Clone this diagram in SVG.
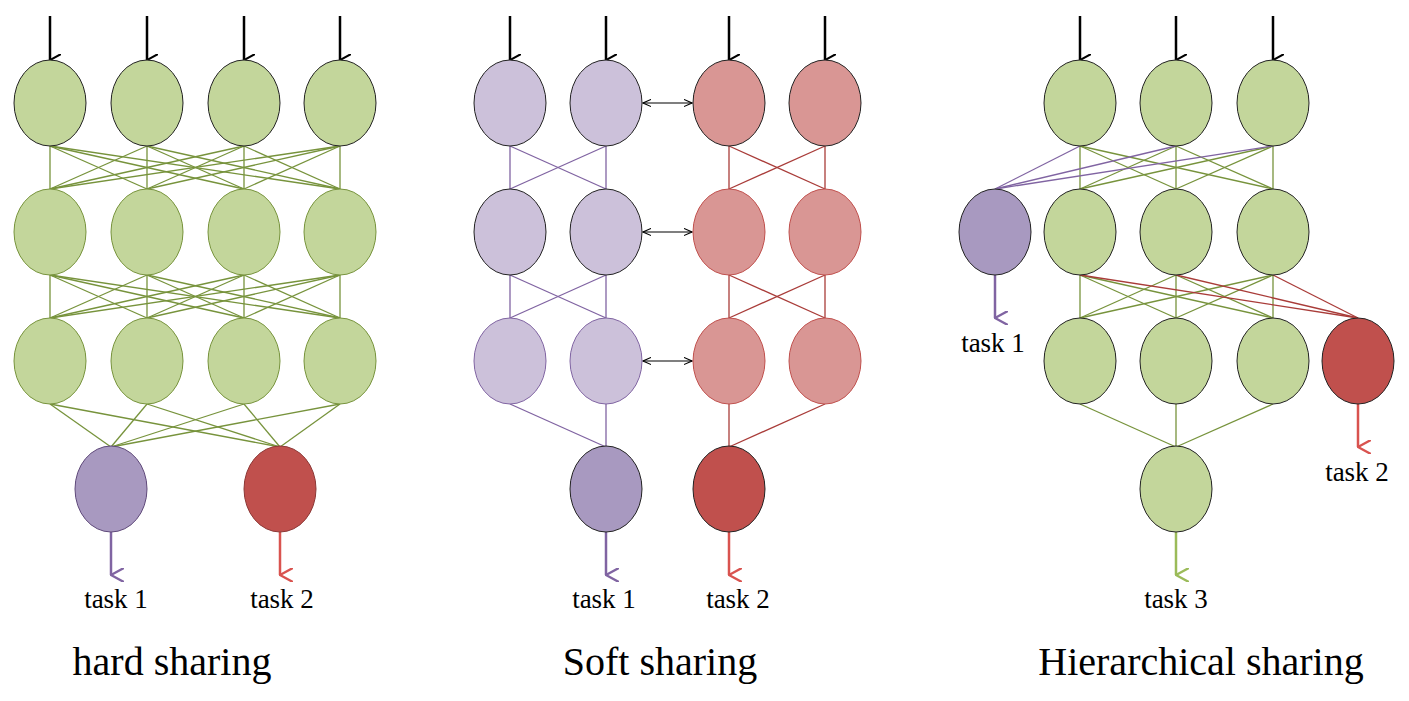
<svg xmlns="http://www.w3.org/2000/svg" width="1409" height="701" viewBox="0 0 1409 701">
<style>
.g{fill:#c3d69b}.gs{stroke:#77933c;stroke-width:1}.k{stroke:#222;stroke-width:1}
.p{fill:#a899c0}.lp{fill:#ccc1da}.r{fill:#c0504d}.lr{fill:#d99694}
.cg line{stroke:#77933c;stroke-width:1.3}.cp{stroke:#8064a2;stroke-width:1.3}.cr{stroke:#a93c39;stroke-width:1.3}
.in{stroke:#000;stroke-width:2.5;fill:none}
text{font-family:"Liberation Serif",serif;fill:#000}
.t{font-size:27px;text-anchor:middle}.h{font-size:40px;text-anchor:middle}
</style>
<defs>
<marker id="ak" viewBox="0 0 12 12" refX="6" refY="11" markerWidth="12" markerHeight="12" markerUnits="userSpaceOnUse" orient="auto-start-reverse"><path d="M0,0 L6,11 L12,0" fill="none" stroke="#000" stroke-width="2"/></marker>
<marker id="ap" viewBox="0 0 12 12" refX="6" refY="11" markerWidth="14" markerHeight="14" markerUnits="userSpaceOnUse" orient="auto"><path d="M0,0 L6,11 L12,0" fill="none" stroke="#8064a2" stroke-width="2"/></marker>
<marker id="ar" viewBox="0 0 12 12" refX="6" refY="11" markerWidth="14" markerHeight="14" markerUnits="userSpaceOnUse" orient="auto"><path d="M0,0 L6,11 L12,0" fill="none" stroke="#d9534f" stroke-width="2"/></marker>
<marker id="ag" viewBox="0 0 12 12" refX="6" refY="11" markerWidth="14" markerHeight="14" markerUnits="userSpaceOnUse" orient="auto"><path d="M0,0 L6,11 L12,0" fill="none" stroke="#9bbb59" stroke-width="2"/></marker>
<marker id="ad" viewBox="0 0 10 10" refX="9" refY="5" markerWidth="9" markerHeight="9" markerUnits="userSpaceOnUse" orient="auto-start-reverse"><path d="M0,1 L9,5 L0,9" fill="none" stroke="#000" stroke-width="1.2"/></marker>
</defs>
<g id="connectors">
<g class="cg">
<!-- hard row1->row2 -->
<line x1="50" y1="146" x2="50" y2="189"/><line x1="50" y1="146" x2="147" y2="189"/><line x1="50" y1="146" x2="244" y2="189"/><line x1="50" y1="146" x2="340" y2="189"/>
<line x1="147" y1="146" x2="50" y2="189"/><line x1="147" y1="146" x2="147" y2="189"/><line x1="147" y1="146" x2="244" y2="189"/><line x1="147" y1="146" x2="340" y2="189"/>
<line x1="244" y1="146" x2="50" y2="189"/><line x1="244" y1="146" x2="147" y2="189"/><line x1="244" y1="146" x2="244" y2="189"/><line x1="244" y1="146" x2="340" y2="189"/>
<line x1="340" y1="146" x2="50" y2="189"/><line x1="340" y1="146" x2="147" y2="189"/><line x1="340" y1="146" x2="244" y2="189"/><line x1="340" y1="146" x2="340" y2="189"/>
<line x1="50" y1="275" x2="50" y2="318"/><line x1="50" y1="275" x2="147" y2="318"/><line x1="50" y1="275" x2="244" y2="318"/><line x1="50" y1="275" x2="340" y2="318"/>
<line x1="147" y1="275" x2="50" y2="318"/><line x1="147" y1="275" x2="147" y2="318"/><line x1="147" y1="275" x2="244" y2="318"/><line x1="147" y1="275" x2="340" y2="318"/>
<line x1="244" y1="275" x2="50" y2="318"/><line x1="244" y1="275" x2="147" y2="318"/><line x1="244" y1="275" x2="244" y2="318"/><line x1="244" y1="275" x2="340" y2="318"/>
<line x1="340" y1="275" x2="50" y2="318"/><line x1="340" y1="275" x2="147" y2="318"/><line x1="340" y1="275" x2="244" y2="318"/><line x1="340" y1="275" x2="340" y2="318"/>
<line x1="50" y1="404" x2="111" y2="447"/><line x1="147" y1="404" x2="111" y2="447"/><line x1="244" y1="404" x2="111" y2="447"/><line x1="340" y1="404" x2="111" y2="447"/>
<line x1="50" y1="404" x2="280" y2="447"/><line x1="147" y1="404" x2="280" y2="447"/><line x1="244" y1="404" x2="280" y2="447"/><line x1="340" y1="404" x2="280" y2="447"/>
<!-- hierarchical -->
<line x1="1080" y1="146" x2="1080" y2="189"/><line x1="1080" y1="146" x2="1176" y2="189"/><line x1="1080" y1="146" x2="1273" y2="189"/>
<line x1="1176" y1="146" x2="1080" y2="189"/><line x1="1176" y1="146" x2="1176" y2="189"/><line x1="1176" y1="146" x2="1273" y2="189"/>
<line x1="1273" y1="146" x2="1080" y2="189"/><line x1="1273" y1="146" x2="1176" y2="189"/><line x1="1273" y1="146" x2="1273" y2="189"/>
<line x1="1080" y1="275" x2="1080" y2="318"/><line x1="1080" y1="275" x2="1176" y2="318"/><line x1="1080" y1="275" x2="1273" y2="318"/>
<line x1="1176" y1="275" x2="1080" y2="318"/><line x1="1176" y1="275" x2="1176" y2="318"/><line x1="1176" y1="275" x2="1273" y2="318"/>
<line x1="1273" y1="275" x2="1080" y2="318"/><line x1="1273" y1="275" x2="1176" y2="318"/><line x1="1273" y1="275" x2="1273" y2="318"/>
<line x1="1080" y1="404" x2="1176" y2="447"/><line x1="1176" y1="404" x2="1176" y2="447"/><line x1="1273" y1="404" x2="1176" y2="447"/>
</g>
<g class="cp">
<line x1="510" y1="146" x2="510" y2="189"/><line x1="510" y1="146" x2="606" y2="189"/><line x1="606" y1="146" x2="510" y2="189"/><line x1="606" y1="146" x2="606" y2="189"/>
<line x1="510" y1="275" x2="510" y2="318"/><line x1="510" y1="275" x2="606" y2="318"/><line x1="606" y1="275" x2="510" y2="318"/><line x1="606" y1="275" x2="606" y2="318"/>
<line x1="510" y1="404" x2="606" y2="447"/><line x1="606" y1="404" x2="606" y2="447"/>
<line x1="1080" y1="146" x2="995" y2="189"/><line x1="1176" y1="146" x2="995" y2="189"/><line x1="1273" y1="146" x2="995" y2="189"/>
</g>
<g class="cr">
<line x1="729" y1="146" x2="729" y2="189"/><line x1="729" y1="146" x2="825" y2="189"/><line x1="825" y1="146" x2="729" y2="189"/><line x1="825" y1="146" x2="825" y2="189"/>
<line x1="729" y1="275" x2="729" y2="318"/><line x1="729" y1="275" x2="825" y2="318"/><line x1="825" y1="275" x2="729" y2="318"/><line x1="825" y1="275" x2="825" y2="318"/>
<line x1="729" y1="404" x2="729" y2="447"/><line x1="825" y1="404" x2="729" y2="447"/>
<line x1="1080" y1="275" x2="1358" y2="318"/><line x1="1176" y1="275" x2="1358" y2="318"/><line x1="1273" y1="275" x2="1358" y2="318"/>
</g>
<!-- input arrows -->
<g class="in">
<line x1="50" y1="16" x2="50" y2="60" marker-end="url(#ak)"/><line x1="147" y1="16" x2="147" y2="60" marker-end="url(#ak)"/><line x1="244" y1="16" x2="244" y2="60" marker-end="url(#ak)"/><line x1="340" y1="16" x2="340" y2="60" marker-end="url(#ak)"/>
<line x1="510" y1="16" x2="510" y2="60" marker-end="url(#ak)"/><line x1="606" y1="16" x2="606" y2="60" marker-end="url(#ak)"/><line x1="729" y1="16" x2="729" y2="60" marker-end="url(#ak)"/><line x1="825" y1="16" x2="825" y2="60" marker-end="url(#ak)"/>
<line x1="1080" y1="16" x2="1080" y2="60" marker-end="url(#ak)"/><line x1="1176" y1="16" x2="1176" y2="60" marker-end="url(#ak)"/><line x1="1273" y1="16" x2="1273" y2="60" marker-end="url(#ak)"/>
</g>
<g stroke="#000" stroke-width="1.2">
<line x1="643" y1="103" x2="692" y2="103" marker-start="url(#ad)" marker-end="url(#ad)"/>
<line x1="643" y1="232" x2="692" y2="232" marker-start="url(#ad)" marker-end="url(#ad)"/>
<line x1="643" y1="361" x2="692" y2="361" marker-start="url(#ad)" marker-end="url(#ad)"/>
</g>
<line x1="111" y1="532" x2="111" y2="575" stroke="#8064a2" stroke-width="2.5" marker-end="url(#ap)"/>
<line x1="280" y1="532" x2="280" y2="575" stroke="#d9534f" stroke-width="2.5" marker-end="url(#ar)"/>
<line x1="606" y1="532" x2="606" y2="575" stroke="#8064a2" stroke-width="2.5" marker-end="url(#ap)"/>
<line x1="729" y1="532" x2="729" y2="575" stroke="#d9534f" stroke-width="2.5" marker-end="url(#ar)"/>
<line x1="995" y1="275" x2="995" y2="318" stroke="#8064a2" stroke-width="2.5" marker-end="url(#ap)"/>
<line x1="1358" y1="404" x2="1358" y2="447" stroke="#d9534f" stroke-width="2.5" marker-end="url(#ar)"/>
<line x1="1176" y1="532" x2="1176" y2="575" stroke="#9bbb59" stroke-width="2.5" marker-end="url(#ag)"/>
</g>
<g id="hard">
<g id="h11"><ellipse class="g k" cx="50" cy="103" rx="36" ry="43"/></g>
<g id="h12"><ellipse class="g k" cx="147" cy="103" rx="36" ry="43"/></g>
<g id="h13"><ellipse class="g k" cx="244" cy="103" rx="36" ry="43"/></g>
<g id="h14"><ellipse class="g k" cx="340" cy="103" rx="36" ry="43"/></g>
<g id="h21"><ellipse class="g gs" cx="50" cy="232" rx="36" ry="43"/></g>
<g id="h22"><ellipse class="g gs" cx="147" cy="232" rx="36" ry="43"/></g>
<g id="h23"><ellipse class="g gs" cx="244" cy="232" rx="36" ry="43"/></g>
<g id="h24"><ellipse class="g gs" cx="340" cy="232" rx="36" ry="43"/></g>
<g id="h31"><ellipse class="g gs" cx="50" cy="361" rx="36" ry="43"/></g>
<g id="h32"><ellipse class="g gs" cx="147" cy="361" rx="36" ry="43"/></g>
<g id="h33"><ellipse class="g gs" cx="244" cy="361" rx="36" ry="43"/></g>
<g id="h34"><ellipse class="g gs" cx="340" cy="361" rx="36" ry="43"/></g>
<g id="ho1"><ellipse class="p" stroke="#5f497a" cx="111" cy="489" rx="36" ry="43"/></g>
<g id="ho2"><ellipse class="r" stroke="#8c3836" cx="280" cy="489" rx="36" ry="43"/></g>
</g>
<g id="soft">
<g id="s11"><ellipse class="lp k" cx="510" cy="103" rx="36" ry="43"/></g>
<g id="s12"><ellipse class="lp k" cx="606" cy="103" rx="36" ry="43"/></g>
<g id="s13"><ellipse class="lr k" cx="729" cy="103" rx="36" ry="43"/></g>
<g id="s14"><ellipse class="lr k" cx="825" cy="103" rx="36" ry="43"/></g>
<g id="s21"><ellipse class="lp k" cx="510" cy="232" rx="36" ry="43"/></g>
<g id="s22"><ellipse class="lp k" cx="606" cy="232" rx="36" ry="43"/></g>
<g id="s23"><ellipse class="lr" stroke="#c0504d" cx="729" cy="232" rx="36" ry="43"/></g>
<g id="s24"><ellipse class="lr" stroke="#c0504d" cx="825" cy="232" rx="36" ry="43"/></g>
<g id="s31"><ellipse class="lp" stroke="#8064a2" cx="510" cy="361" rx="36" ry="43"/></g>
<g id="s32"><ellipse class="lp" stroke="#8064a2" cx="606" cy="361" rx="36" ry="43"/></g>
<g id="s33"><ellipse class="lr" stroke="#c0504d" cx="729" cy="361" rx="36" ry="43"/></g>
<g id="s34"><ellipse class="lr" stroke="#c0504d" cx="825" cy="361" rx="36" ry="43"/></g>
<g id="so1"><ellipse class="p k" cx="606" cy="489" rx="36" ry="43"/></g>
<g id="so2"><ellipse class="r k" cx="729" cy="489" rx="36" ry="43"/></g>
</g>
<g id="hier">
<g id="r11"><ellipse class="g k" cx="1080" cy="103" rx="36" ry="43"/></g>
<g id="r12"><ellipse class="g k" cx="1176" cy="103" rx="36" ry="43"/></g>
<g id="r13"><ellipse class="g k" cx="1273" cy="103" rx="36" ry="43"/></g>
<g id="rp"><ellipse class="p k" cx="995" cy="232" rx="36" ry="43"/></g>
<g id="r21"><ellipse class="g k" cx="1080" cy="232" rx="36" ry="43"/></g>
<g id="r22"><ellipse class="g k" cx="1176" cy="232" rx="36" ry="43"/></g>
<g id="r23"><ellipse class="g k" cx="1273" cy="232" rx="36" ry="43"/></g>
<g id="r31"><ellipse class="g k" cx="1080" cy="361" rx="36" ry="43"/></g>
<g id="r32"><ellipse class="g k" cx="1176" cy="361" rx="36" ry="43"/></g>
<g id="r33"><ellipse class="g k" cx="1273" cy="361" rx="36" ry="43"/></g>
<g id="rr"><ellipse class="r k" cx="1358" cy="361" rx="36" ry="43"/></g>
<g id="ro"><ellipse class="g k" cx="1176" cy="489" rx="36" ry="43"/></g>
</g>
<g id="labels">
<text class="t" x="116" y="608">task 1</text><text class="t" x="282" y="608">task 2</text>
<text class="t" x="604" y="608">task 1</text><text class="t" x="738" y="608">task 2</text>
<text class="t" x="993" y="352">task 1</text><text class="t" x="1357" y="481">task 2</text><text class="t" x="1176" y="608">task 3</text>
<text class="h" x="172" y="675">hard sharing</text>
<text class="h" x="660" y="675">Soft sharing</text>
<text class="h" x="1201" y="675">Hierarchical sharing</text>
</g>
</svg>
